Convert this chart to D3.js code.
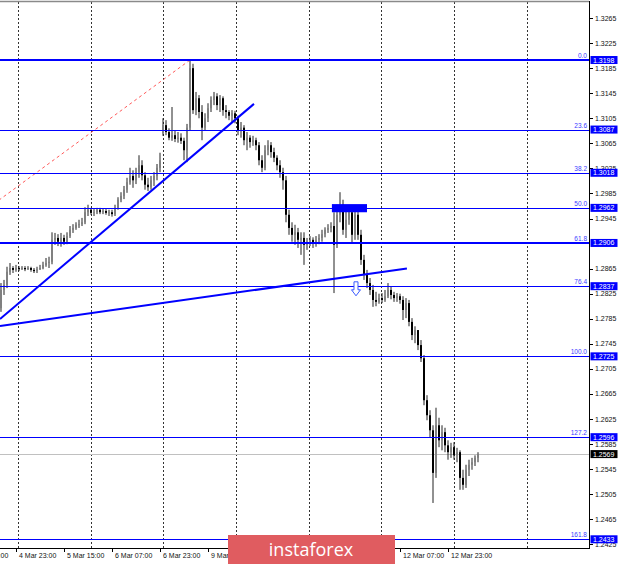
<!DOCTYPE html>
<html><head><meta charset="utf-8">
<script src="https://cdn.jsdelivr.net/npm/d3@7"></script>
<style>html,body{margin:0;padding:0;background:#fff;overflow:hidden}</style>
</head><body>
<svg id="c" width="620" height="564"></svg>
<script>
// ---- DATA (GBP/USD H1) ----
const firstBar = -5; // bar index relative to "4 Mar 23:00"
const open = [
1.2802,1.2831,1.2839,1.2860,1.2866,
1.2863,1.2866,1.2864,1.2866,1.2864,1.2866,1.2863,1.2861,1.2864,1.2866,
1.2871,1.2874,1.2876,1.2911,1.2914,1.2908,1.2914,1.2908,1.2917,1.2927,
1.2930,1.2935,1.2936,1.2939,1.2955,1.2959,1.2954,1.2955,1.2959,1.2955,
1.2957,1.2954,1.2955,1.2952,1.2962,1.2975,1.2981,1.2991,1.3003,1.3013,
1.3006,1.3019,1.3030,1.3014,1.2999,1.2995,1.3006,1.3013,1.3026,1.3081,
1.3094,1.3083,1.3074,1.3078,1.3072,1.3074,1.3069,1.3054,1.3090,1.3185,
1.3118,1.3137,1.3115,1.3090,1.3105,1.3121,1.3134,1.3140,1.3126,1.3137,
1.3118,1.3115,1.3109,1.3113,1.3105,1.3086,1.3090,1.3070,1.3074,1.3067,
1.3070,1.3062,1.3038,1.3026,1.3054,1.3062,1.3051,1.3042,1.3030,1.3019,
1.3006,1.2951,1.2930,1.2919,1.2923,1.2911,1.2914,1.2903,1.2908,1.2911,
1.2906,1.2911,1.2914,1.2920,1.2927,1.2930,1.2933,1.2903,1.2951,1.2967,
1.2927,1.2943,1.2955,1.2919,1.2951,1.2919,1.2879,1.2855,1.2842,1.2831,
1.2815,1.2812,1.2818,1.2815,1.2821,1.2831,1.2823,1.2818,1.2821,1.2815,
1.2799,1.2810,1.2780,1.2759,1.2767,1.2743,1.2722,1.2655,1.2631,1.2607,
1.2539,1.2615,1.2591,1.2604,1.2583,1.2572,1.2580,1.2567,1.2572,1.2531,
1.2520,1.2544,1.2552,1.2556,1.2563];
const high = [
1.2842,1.2847,1.2868,1.2874,1.2869,
1.2871,1.2869,1.2869,1.2869,1.2869,1.2868,1.2866,1.2868,1.2871,1.2876,
1.2882,1.2884,1.2923,1.2922,1.2920,1.2922,1.2919,1.2923,1.2933,1.2936,
1.2939,1.2943,1.2946,1.2963,1.2967,1.2962,1.2960,1.2962,1.2962,1.2960,
1.2960,1.2959,1.2959,1.2967,1.2979,1.2987,1.2997,1.3010,1.3026,1.3022,
1.3026,1.3046,1.3038,1.3019,1.3010,1.3013,1.3019,1.3032,1.3050,1.3105,
1.3102,1.3089,1.3123,1.3086,1.3083,1.3081,1.3074,1.3096,1.3198,1.3192,
1.3147,1.3142,1.3126,1.3113,1.3129,1.3140,1.3147,1.3145,1.3142,1.3140,
1.3126,1.3118,1.3118,1.3117,1.3109,1.3099,1.3094,1.3083,1.3078,1.3077,
1.3074,1.3067,1.3046,1.3062,1.3070,1.3067,1.3058,1.3046,1.3038,1.3026,
1.3013,1.2959,1.2939,1.2935,1.2930,1.2923,1.2923,1.2914,1.2917,1.2915,
1.2917,1.2920,1.2927,1.2931,1.2936,1.2939,1.2955,1.2967,1.2987,1.2975,
1.2959,1.2963,1.2962,1.2959,1.2962,1.2927,1.2887,1.2863,1.2850,1.2839,
1.2828,1.2825,1.2826,1.2831,1.2842,1.2836,1.2828,1.2826,1.2825,1.2821,
1.2818,1.2815,1.2786,1.2773,1.2765,1.2751,1.2727,1.2663,1.2639,1.2615,
1.2643,1.2627,1.2615,1.2611,1.2591,1.2587,1.2588,1.2579,1.2575,1.2544,
1.2552,1.2560,1.2563,1.2567,1.2572];
const low = [
1.2796,1.2823,1.2834,1.2855,1.2858,
1.2860,1.2861,1.2863,1.2861,1.2863,1.2860,1.2858,1.2858,1.2863,1.2864,
1.2868,1.2866,1.2872,1.2903,1.2901,1.2900,1.2903,1.2904,1.2914,1.2922,
1.2927,1.2930,1.2933,1.2936,1.2949,1.2951,1.2949,1.2952,1.2952,1.2952,
1.2951,1.2949,1.2948,1.2949,1.2959,1.2971,1.2976,1.2986,1.2999,1.2994,
1.3000,1.3010,1.3006,1.2991,1.2989,1.2991,1.2997,1.3006,1.3019,1.3077,
1.3078,1.3070,1.3069,1.3067,1.3066,1.3064,1.3038,1.3035,1.3086,1.3112,
1.3110,1.3105,1.3070,1.3086,1.3099,1.3115,1.3126,1.3118,1.3115,1.3109,
1.3105,1.3102,1.3099,1.3097,1.3078,1.3074,1.3062,1.3054,1.3058,1.3061,
1.3054,1.3030,1.3019,1.3022,1.3046,1.3042,1.3035,1.3022,1.3010,1.2991,
1.2939,1.2919,1.2908,1.2903,1.2898,1.2887,1.2871,1.2895,1.2901,1.2898,
1.2900,1.2904,1.2908,1.2915,1.2922,1.2923,1.2826,1.2898,1.2939,1.2919,
1.2914,1.2935,1.2906,1.2911,1.2911,1.2871,1.2847,1.2834,1.2823,1.2804,
1.2805,1.2809,1.2810,1.2812,1.2818,1.2816,1.2812,1.2812,1.2809,1.2783,
1.2786,1.2773,1.2751,1.2746,1.2735,1.2716,1.2647,1.2623,1.2596,1.2491,
1.2531,1.2580,1.2575,1.2572,1.2560,1.2563,1.2560,1.2556,1.2512,1.2512,
1.2515,1.2534,1.2544,1.2550,1.2556];
const close = [
1.2831,1.2839,1.2860,1.2866,1.2863,
1.2866,1.2864,1.2866,1.2864,1.2866,1.2863,1.2861,1.2864,1.2866,1.2871,
1.2874,1.2876,1.2911,1.2914,1.2908,1.2914,1.2908,1.2917,1.2927,1.2930,
1.2935,1.2936,1.2939,1.2955,1.2959,1.2954,1.2955,1.2959,1.2955,1.2957,
1.2954,1.2955,1.2952,1.2962,1.2975,1.2981,1.2991,1.3003,1.3013,1.3006,
1.3019,1.3030,1.3014,1.2999,1.2995,1.3006,1.3013,1.3026,1.3038,1.3094,
1.3083,1.3074,1.3078,1.3072,1.3074,1.3069,1.3054,1.3090,1.3185,1.3118,
1.3137,1.3115,1.3090,1.3105,1.3121,1.3134,1.3140,1.3126,1.3137,1.3118,
1.3115,1.3109,1.3113,1.3105,1.3086,1.3090,1.3070,1.3074,1.3067,1.3070,
1.3062,1.3038,1.3026,1.3054,1.3062,1.3051,1.3042,1.3030,1.3019,1.3006,
1.2951,1.2930,1.2919,1.2923,1.2911,1.2914,1.2903,1.2908,1.2911,1.2906,
1.2911,1.2914,1.2920,1.2927,1.2930,1.2933,1.2903,1.2951,1.2967,1.2927,
1.2943,1.2955,1.2919,1.2951,1.2919,1.2879,1.2855,1.2842,1.2831,1.2815,
1.2812,1.2818,1.2815,1.2821,1.2831,1.2823,1.2818,1.2821,1.2815,1.2799,
1.2810,1.2780,1.2759,1.2767,1.2743,1.2722,1.2655,1.2631,1.2607,1.2539,
1.2615,1.2591,1.2604,1.2583,1.2572,1.2580,1.2567,1.2572,1.2531,1.2520,
1.2544,1.2552,1.2556,1.2563,1.2569];

const fibLevels = ["0.0","23.6","38.2","50.0","61.8","76.4","100.0","127.2","161.8"];
const fibPrices = [1.3198,1.3087,1.3018,1.2962,1.2906,1.2837,1.2725,1.2596,1.2433];
const fibBold = [true,false,false,false,true,false,false,false,false];
const currentPrice = 1.2569;

const yTicks = [1.3265,1.3225,1.3185,1.3145,1.3105,1.3065,1.3025,1.2985,1.2945,1.2865,
  1.2825,1.2785,1.2745,1.2705,1.2665,1.2625,1.2585,1.2545,1.2505,1.2465,1.2425];
const timeBars = [-16,0,16,32,48,64,128,144];
const timeLabels = ["4 Mar 07:00","4 Mar 23:00","5 Mar 15:00","6 Mar 07:00","6 Mar 23:00",
  "9 Mar 15:00","12 Mar 07:00","12 Mar 23:00"];
const gridBars = [0.77,24.9,49.1,73.3,97.7,121.8,146,170.3];

// drawn objects (bar index, price)
const trendLines = [
  {i1:-5.33, p1:1.27846, i2:79.33, p2:1.3128},
  {i1:-5.33, p1:1.27734, i2:130.3, p2:1.28652}
];
const fibBase = {i1:-76.7, p1:1.2725, i2:58, p2:1.3198};
const zoneRect = {i1:105.3, i2:117, p1:1.2968, p2:1.2955};
const downArrow = {i:113.33, p:1.2844};
const watermark = "instaforex";

// ---- CHART ----
const svg = d3.select("#c");
const plotRight = 589, plotTop = 2, plotBottom = 548;
const x = d3.scaleLinear().domain([-16/3, 191]).range([0, plotRight]);
const y = d3.scaleLinear().domain([1.24191, 1.32906]).range([plotBottom, plotTop]);
const font = "'Liberation Sans', Arial, sans-serif";

svg.append("rect").attr("width",620).attr("height",564).attr("fill","#fff");
svg.append("defs").append("clipPath").attr("id","clip")
  .append("rect").attr("x",0).attr("y",plotTop).attr("width",plotRight).attr("height",plotBottom-plotTop);

const plot = svg.append("g").attr("clip-path","url(#clip)");

// vertical dotted grid
plot.selectAll("line.grid").data(gridBars).join("line")
  .attr("x1",d=>Math.round(x(d))+0.5).attr("x2",d=>Math.round(x(d))+0.5)
  .attr("y1",plotTop).attr("y2",plotBottom)
  .attr("stroke","#333").attr("stroke-width",1).attr("stroke-dasharray","2,2");

// current price line
plot.append("line").attr("x1",0).attr("x2",plotRight)
  .attr("y1",Math.round(y(currentPrice))+0.5).attr("y2",Math.round(y(currentPrice))+0.5)
  .attr("stroke","#c0c0c0").attr("stroke-width",1);

// candles
const bars = open.map((o,k)=>({i:firstBar+k,o,h:high[k],l:low[k],c:close[k]}));
plot.selectAll("line.wick").data(bars).join("line")
  .attr("x1",d=>x(d.i)).attr("x2",d=>x(d.i))
  .attr("y1",d=>y(d.h)).attr("y2",d=>y(d.l))
  .attr("stroke","#222").attr("stroke-width",1);
plot.selectAll("rect.body").data(bars).join("rect")
  .attr("x",d=>x(d.i)-1).attr("width",2)
  .attr("y",d=>y(Math.max(d.o,d.c)))
  .attr("height",d=>Math.max(1,Math.abs(y(d.o)-y(d.c))))
  .attr("fill",d=>d.c>=d.o?"#808080":"#000");

// fib base dashed red line
plot.append("line")
  .attr("x1",x(fibBase.i1)).attr("y1",y(fibBase.p1))
  .attr("x2",x(fibBase.i2)).attr("y2",y(fibBase.p2))
  .attr("stroke","#ff5a5a").attr("stroke-width",1).attr("stroke-dasharray","3,3");

// fib horizontal lines
const fib = fibPrices.map((p,k)=>({p,lvl:fibLevels[k],bold:fibBold[k]}));
plot.selectAll("line.fib").data(fib).join("line")
  .attr("x1",0).attr("x2",plotRight)
  .attr("y1",d=>d.bold?Math.round(y(d.p)):Math.round(y(d.p))+0.5)
  .attr("y2",d=>d.bold?Math.round(y(d.p)):Math.round(y(d.p))+0.5)
  .attr("stroke","#0000ff").attr("stroke-width",d=>d.bold?2:1);
plot.selectAll("text.fibl").data(fib).join("text")
  .attr("x",587).attr("y",d=>y(d.p)-2)
  .attr("text-anchor","end").attr("font-family",font).attr("font-size",6.5)
  .attr("fill","#3b3bff").text(d=>d.lvl);

// trend lines
plot.selectAll("line.trend").data(trendLines).join("line")
  .attr("x1",d=>x(d.i1)).attr("y1",d=>y(d.p1))
  .attr("x2",d=>x(d.i2)).attr("y2",d=>y(d.p2))
  .attr("stroke","#0000ff").attr("stroke-width",2);

// blue zone rectangle
plot.append("rect")
  .attr("x",x(zoneRect.i1)).attr("width",x(zoneRect.i2)-x(zoneRect.i1))
  .attr("y",y(zoneRect.p1)).attr("height",y(zoneRect.p2)-y(zoneRect.p1))
  .attr("fill","#0000ff");

// hollow down arrow
{
  const ax = x(downArrow.i), ay = y(downArrow.p);
  const pts = [[ax-2,ay],[ax+2,ay],[ax+2,ay+8],[ax+4.5,ay+8],[ax,ay+14],[ax-4.5,ay+8],[ax-2,ay+8]];
  plot.append("path").attr("d","M"+pts.map(p=>p.join(",")).join("L")+"Z")
    .attr("fill","#fff").attr("stroke","#3b5bff").attr("stroke-width",1);
}

// frame
svg.append("line").attr("x1",0).attr("x2",plotRight).attr("y1",1.5).attr("y2",1.5).attr("stroke","#8a8a8a").attr("stroke-width",1.5);
svg.append("line").attr("x1",plotRight+0.5).attr("x2",plotRight+0.5).attr("y1",1).attr("y2",plotBottom+1).attr("stroke","#000");
svg.append("line").attr("x1",0).attr("x2",plotRight+1).attr("y1",plotBottom+0.5).attr("y2",plotBottom+0.5).attr("stroke","#000");

// y axis ticks & labels
const yAx = svg.append("g");
yAx.selectAll("line").data(yTicks).join("line")
  .attr("x1",plotRight+1).attr("x2",plotRight+4)
  .attr("y1",d=>Math.round(y(d))+0.5).attr("y2",d=>Math.round(y(d))+0.5).attr("stroke","#000");
yAx.selectAll("text").data(yTicks).join("text")
  .attr("x",595).attr("y",d=>y(d)+2.5)
  .attr("font-family",font).attr("font-size",7).attr("fill","#111")
  .text(d=>d.toFixed(4));

// fib price boxes
const boxes = svg.append("g");
boxes.selectAll("rect").data(fib).join("rect")
  .attr("x",590.5).attr("width",27).attr("y",d=>y(d.p)-4).attr("height",8).attr("fill","#0000ff");
boxes.selectAll("text").data(fib).join("text")
  .attr("x",593).attr("y",d=>y(d.p)+2.5)
  .attr("font-family",font).attr("font-size",7).attr("fill","#fff")
  .text(d=>d.p.toFixed(4));
// current price box
svg.append("rect").attr("x",590.5).attr("width",27).attr("y",y(currentPrice)-4).attr("height",8).attr("fill","#000");
svg.append("text").attr("x",593).attr("y",y(currentPrice)+2.5)
  .attr("font-family",font).attr("font-size",7).attr("fill","#fff").text(currentPrice.toFixed(4));

// x axis ticks & labels
const xAx = svg.append("g");
const tl = timeBars.map((b,k)=>({b,t:timeLabels[k]}));
xAx.selectAll("line").data(tl).join("line")
  .attr("x1",d=>x(d.b)+0.5).attr("x2",d=>x(d.b)+0.5)
  .attr("y1",plotBottom+1).attr("y2",plotBottom+4).attr("stroke","#000");
xAx.selectAll("text").data(tl).join("text")
  .attr("x",d=>x(d.b)+3).attr("y",558)
  .attr("font-family",font).attr("font-size",7).attr("fill","#111")
  .text(d=>d.t);

// watermark
svg.append("rect").attr("x",228).attr("y",535).attr("width",167).attr("height",29).attr("fill","#e05c60");
svg.append("text").attr("x",311).attr("y",556).attr("text-anchor","middle")
  .attr("font-family","'Open Sans', sans-serif").attr("font-size",18).attr("fill","#fff")
  .text(watermark);
</script>
</body></html>
